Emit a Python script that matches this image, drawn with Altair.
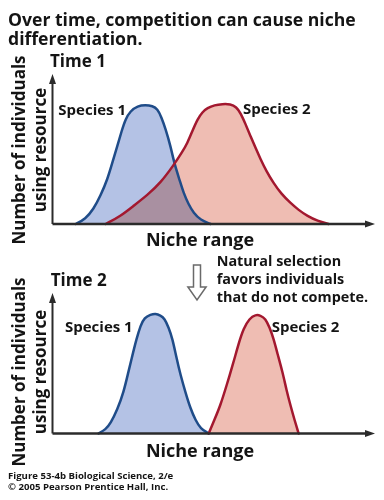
import altair as alt
import pandas as pd

# ---------------- data ----------------
title_lines = ["Over time, competition can cause niche", "differentiation."]
panel_names = ["Time 1", "Time 2"]
y_title_lines = ["Number of individuals", "using resource"]
x_title = "Niche range"
species_names = ["Species 1", "Species 2"]
note_lines = ["Natural selection", "favors individuals", "that do not compete."]
footer_lines = ["Figure 53-4b  Biological Science, 2/e",
                "\u00a9 2005 Pearson Prentice Hall, Inc."]

# Time 1 (niche position 0-100, relative number of individuals)
t1_s1_x = [7.1, 10.1, 12.6, 14.7, 16.9, 18.4, 19.9, 21.2, 22.4, 23.9, 26.1, 28.5,
           30.7, 32.2, 33.4, 34.7, 36.2, 37.4, 39.0, 40.2, 41.7, 43.3, 45.4, 48.5]
t1_s1_y = [0, .033, .10, .187, .30, .413, .52, .62, .70, .753, .787, .793,
           .787, .767, .713, .633, .52, .40, .293, .207, .133, .073, .027, 0]
t1_s2_x = [16.3, 20.9, 24.8, 29.1, 33.1, 37.4, 39.6, 41.4, 42.9, 44.5, 46.0, 47.5,
           49.7, 52.1, 54.6, 56.4, 57.7, 59.2, 60.7, 62.3, 63.8, 65.6, 67.8, 70.2,
           73.0, 75.5, 78.2, 81.3, 84.7]
t1_s2_y = [0, .053, .12, .193, .273, .40, .473, .54, .62, .70, .747, .773,
           .793, .80, .80, .78, .74, .667, .587, .507, .433, .353, .273, .20,
           .14, .093, .053, .02, 0]

# Time 2
t2_s1_x = [14.1, 16.3, 17.8, 19.9, 21.8, 23.3, 24.5, 25.8, 27.0, 28.2, 30.1, 31.6,
           33.1, 34.4, 35.6, 36.8, 38.0, 39.3, 40.8, 42.3, 43.9, 45.4, 47.9]
t2_s1_y = [0, .027, .067, .16, .273, .413, .52, .633, .72, .773, .793, .80,
           .787, .767, .707, .633, .507, .387, .273, .167, .087, .033, 0]
t2_s2_x = [47.9, 49.7, 51.5, 53.4, 55.5, 57.1, 58.6, 60.4, 62.3, 63.8, 65.3, 66.6,
           67.8, 69.0, 70.6, 71.8, 73.0, 74.2, 75.5]
t2_s2_y = [0, .093, .187, .32, .473, .60, .70, .767, .793, .787, .767, .707,
           .633, .533, .407, .287, .187, .093, 0]

# ---------------- styles ----------------
FONT = "Open Sans"
BLUE_FILL = "#b4c2e5"
RED_FILL = "#efbdb3"
BLUE_LINE = "#1f4c89"
RED_LINE = "#a3182f"
AX = "#2b2b2b"
TXT = "#141414"
INTERP = "basis"
UP = "M0,-1L0.7,1L-0.7,1Z"
RIGHT = "M1,0L-1,-0.7L-1,0.7Z"
DOWN_ARROW = "M-0.2,-1L0.2,-1L0.2,0.26L0.52,0.26L0,1L-0.52,0.26L-0.2,0.26Z"

XS = alt.Scale(domain=[0, 100], range=[44.5, 370.5], nice=False)
one = pd.DataFrame({"k": [0]})


def panel(s1x, s1y, s2x, s2y, y_range, y_arrow):
    ys = alt.Scale(domain=[0, 1], range=y_range, nice=False)
    d1 = pd.DataFrame({"x": s1x, "y": s1y})
    d2 = pd.DataFrame({"x": s2x, "y": s2y})
    X = alt.X("x:Q", scale=XS, axis=None)
    Y = alt.Y("y:Q", scale=ys, axis=None)
    a1 = alt.Chart(d1).mark_area(color=BLUE_FILL, opacity=1,
                                 interpolate=INTERP).encode(X, Y)
    a2 = alt.Chart(d2).mark_area(color=RED_FILL, opacity=1, blend="multiply",
                                 interpolate=INTERP).encode(X, Y)
    l1 = alt.Chart(d1).mark_line(color=BLUE_LINE, strokeWidth=2.5, strokeCap="round",
                                 interpolate=INTERP).encode(X, Y)
    l2 = alt.Chart(d2).mark_line(color=RED_LINE, strokeWidth=2.5, strokeCap="round",
                                 interpolate=INTERP).encode(X, Y)
    xaxis = alt.Chart(one).mark_rule(color=AX, strokeWidth=2.5).encode(
        x=alt.datum(0), x2=alt.datum(97.4), y=alt.datum(0))
    yaxis = alt.Chart(one).mark_rule(color=AX, strokeWidth=2).encode(
        x=alt.datum(0), y=alt.datum(0), y2=alt.datum(y_arrow))
    xarr = alt.Chart(one).mark_point(shape=RIGHT, size=100, filled=True, color=AX,
                                     opacity=1).encode(x=alt.datum(97.4), y=alt.datum(0))
    yarr = alt.Chart(one).mark_point(shape=UP, size=100, filled=True, color=AX,
                                     opacity=1).encode(x=alt.datum(0), y=alt.datum(y_arrow))
    return alt.layer(a1, a2, l1, l2, xaxis, yaxis, xarr, yarr)


def txt(text, x, y, size, align="left", weight="bold", angle=None, lh=None):
    kw = dict(font=FONT, fontSize=size, fontWeight=weight, align=align,
              baseline="alphabetic", color=TXT)
    if angle is not None:
        kw["angle"] = angle
    if lh is not None:
        kw["lineHeight"] = lh
    return alt.Chart(one).mark_text(**kw).encode(
        x=alt.value(x), y=alt.value(y), text=alt.value(text))


p1 = panel(t1_s1_x, t1_s1_y, t1_s2_x, t1_s2_y, [216, 66], 0.967)
p2 = panel(t2_s1_x, t2_s1_y, t2_s2_x, t2_s2_y, [425.5, 275.5], 0.903)

down = alt.Chart(one).mark_point(shape=DOWN_ARROW, size=1225, filled=True, color="white",
                                 stroke="#6a6a6a", strokeWidth=1.5, opacity=1).encode(
    x=alt.value(189), y=alt.value(274.5))

texts = [
    txt(title_lines, 0, 17.5, 17.6, lh=19.5),
    txt(panel_names[0], 42, 58.5, 17),
    txt(panel_names[1], 42.7, 278, 17),
    txt(y_title_lines, 17, 142, 17, align="center", angle=270, lh=20.5),
    txt(y_title_lines, 17, 364, 17, align="center", angle=270, lh=20.5),
    txt(x_title, 192, 237.5, 18, align="center"),
    txt(x_title, 192, 448.5, 18, align="center"),
    txt(species_names[0], 50.3, 107, 15),
    txt(species_names[1], 235, 105.5, 15),
    txt(species_names[0], 57, 323.5, 15),
    txt(species_names[1], 263.7, 323.5, 15),
    txt(note_lines, 208.7, 258, 14.4, lh=18.2),
    txt(footer_lines, 0, 470.5, 9.6, lh=11.5),
]

chart = alt.layer(p1, p2, down, *texts).resolve_scale(y="independent").properties(
    width=368, height=484, padding=0,
    autosize=alt.AutoSizeParams(type="none"),
).configure_view(stroke=None)

chart.save("out.html", embed_options={"renderer": "svg", "actions": False})
